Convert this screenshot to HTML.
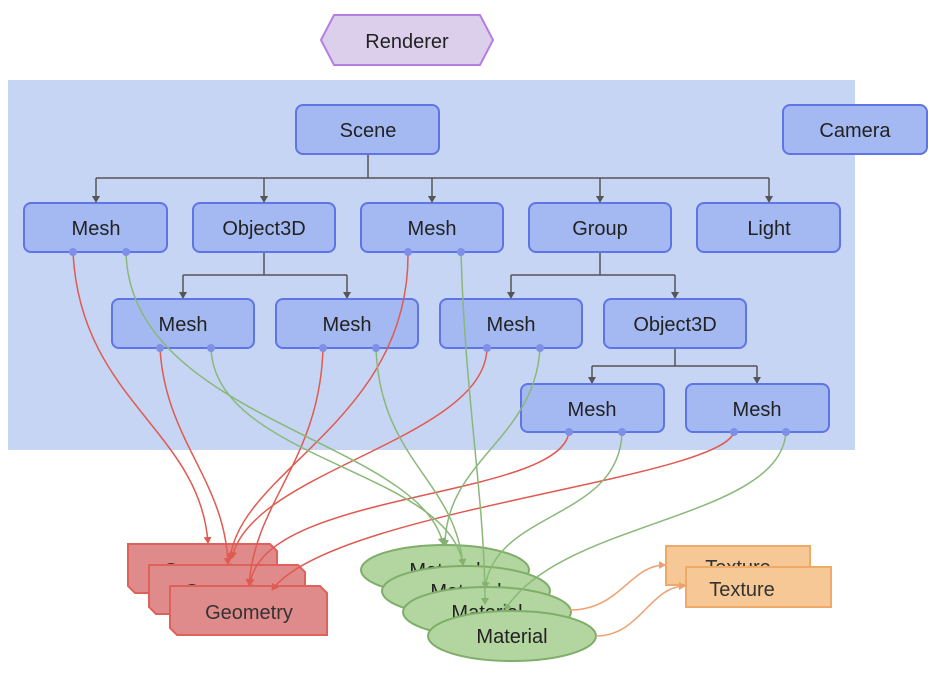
<!DOCTYPE html>
<html><head><meta charset="utf-8"><style>
html,body{margin:0;padding:0;background:#fff;}
svg{display:block;font-family:"Liberation Sans",Arial,sans-serif;}
</style></head><body>
<svg width="945" height="673" viewBox="0 0 945 673" xmlns="http://www.w3.org/2000/svg">
<defs>
<marker id="ak" markerWidth="8" markerHeight="8" refX="6" refY="4" orient="auto" markerUnits="userSpaceOnUse"><path d="M0,0 L7,4 L0,8 z" fill="#555"/></marker>
<marker id="ar" markerWidth="8" markerHeight="8" refX="6" refY="4" orient="auto" markerUnits="userSpaceOnUse"><path d="M0,0 L7,4 L0,8 z" fill="#e05a50"/></marker>
<marker id="ag" markerWidth="8" markerHeight="8" refX="6" refY="4" orient="auto" markerUnits="userSpaceOnUse"><path d="M0,0 L7,4 L0,8 z" fill="#86b070"/></marker>
<marker id="ao" markerWidth="8" markerHeight="8" refX="6" refY="4" orient="auto" markerUnits="userSpaceOnUse"><path d="M0,0 L7,4 L0,8 z" fill="#f0a070"/></marker>
</defs>
<rect x="8" y="80" width="847" height="370" fill="#c6d5f4"/>
<polygon points="334,15 480,15 493,40 480,65 334,65 321,40" fill="#dccfec" stroke="#b57ee0" stroke-width="2"/>
<text x="407" y="48" font-size="20" text-anchor="middle" fill="#222">Renderer</text>

<g stroke="#555" stroke-width="1.5" fill="none">
<path d="M368,154 V178 M96,178 H769"/>
<path d="M96,178 V202" marker-end="url(#ak)"/><path d="M264,178 V202" marker-end="url(#ak)"/><path d="M432,178 V202" marker-end="url(#ak)"/><path d="M600,178 V202" marker-end="url(#ak)"/><path d="M769,178 V202" marker-end="url(#ak)"/>
<path d="M264,252 V275 M183,275 H347"/><path d="M183,275 V298" marker-end="url(#ak)"/><path d="M347,275 V298" marker-end="url(#ak)"/>
<path d="M600,252 V275 M511,275 H675"/><path d="M511,275 V298" marker-end="url(#ak)"/><path d="M675,275 V298" marker-end="url(#ak)"/>
<path d="M675,348 V366 M592,366 H757"/><path d="M592,366 V383" marker-end="url(#ak)"/><path d="M757,366 V383" marker-end="url(#ak)"/>
</g>

<g fill="#a4b9f1" stroke="#5f74e6" stroke-width="2">
<rect x="296" y="105" width="143" height="49" rx="7"/>
<rect x="783" y="105" width="144" height="49" rx="7"/>
<rect x="24" y="203" width="143" height="49" rx="7"/>
<rect x="193" y="203" width="142" height="49" rx="7"/>
<rect x="361" y="203" width="142" height="49" rx="7"/>
<rect x="529" y="203" width="142" height="49" rx="7"/>
<rect x="697" y="203" width="143" height="49" rx="7"/>
<rect x="112" y="299" width="142" height="49" rx="7"/>
<rect x="276" y="299" width="142" height="49" rx="7"/>
<rect x="440" y="299" width="142" height="49" rx="7"/>
<rect x="604" y="299" width="142" height="49" rx="7"/>
<rect x="521" y="384" width="143" height="48" rx="7"/>
<rect x="686" y="384" width="143" height="48" rx="7"/>
</g>
<g font-size="20" text-anchor="middle" fill="#222">
<text x="368" y="137">Scene</text><text x="855" y="137">Camera</text>
<text x="96" y="235">Mesh</text><text x="264" y="235">Object3D</text><text x="432" y="235">Mesh</text><text x="600" y="235">Group</text><text x="769" y="235">Light</text>
<text x="183" y="331">Mesh</text><text x="347" y="331">Mesh</text><text x="511" y="331">Mesh</text><text x="675" y="331">Object3D</text>
<text x="592" y="416">Mesh</text><text x="757" y="416">Mesh</text>
</g>

<!-- geometry -->
<g stroke="#e0605a" stroke-width="2" font-size="20" text-anchor="middle">
<polygon fill="#e08b8b" points="128,544 270,544 277,551 277,593 135,593 128,586"/>
<text x="207" y="577" fill="#333" stroke="none">Geometry</text>
<polygon fill="#e08b8b" points="149,565 298,565 305,572 305,614 156,614 149,607"/>
<text x="228" y="598" fill="#333" stroke="none">Geometry</text>
<polygon fill="#e08b8b" points="170,586 320,586 327,593 327,635 177,635 170,628"/>
<text x="249" y="619" fill="#333" stroke="none">Geometry</text>
</g>

<!-- materials -->
<g stroke="#7fae6a" stroke-width="2" font-size="20" text-anchor="middle">
<ellipse fill="#b3d5a0" cx="445" cy="570" rx="84" ry="25"/>
<text x="445" y="577" fill="#222" stroke="none">Material</text>
<ellipse fill="#b3d5a0" cx="466" cy="591" rx="84" ry="25"/>
<text x="466" y="598" fill="#222" stroke="none">Material</text>
<ellipse fill="#b3d5a0" cx="487" cy="612" rx="84" ry="25"/>
<text x="487" y="619" fill="#222" stroke="none">Material</text>
<ellipse fill="#b3d5a0" cx="512" cy="636" rx="84" ry="25"/>
<text x="512" y="643" fill="#222" stroke="none">Material</text>
</g>

<!-- textures -->
<g stroke="#f0aa68" stroke-width="2" font-size="20" text-anchor="middle">
<rect fill="#f5c896" x="666" y="546" width="144" height="39"/>
<text x="738" y="574" fill="#333" stroke="none">Texture</text>
<rect fill="#f5c896" x="686" y="567" width="145" height="40"/>
<text x="742" y="596" fill="#333" stroke="none">Texture</text>
</g>

<!-- red connectors -->
<g stroke="#e05a50" stroke-width="1.5" fill="none">
<path d="M73,252 C80,400 200,430 208,543" marker-end="url(#ar)"/>
<path d="M160,348 C165,440 225,480 228,564" marker-end="url(#ar)"/>
<path d="M408,252 C410,420 240,470 230,559" marker-end="url(#ar)"/>
<path d="M323,348 C320,460 255,500 249,585" marker-end="url(#ar)"/>
<path d="M487,348 C485,440 250,470 232,558" marker-end="url(#ar)"/>
<path d="M569,432 C560,500 260,490 250,585" marker-end="url(#ar)"/>
<path d="M734,432 C720,480 330,510 272,590" marker-end="url(#ar)"/>
</g>
<!-- green connectors -->
<g stroke="#8ab878" stroke-width="1.5" fill="none">
<path d="M126,252 C130,420 420,440 443,544" marker-end="url(#ag)"/>
<path d="M211,348 C215,460 450,470 463,565" marker-end="url(#ag)"/>
<path d="M461,252 C465,400 485,500 485,604" marker-end="url(#ag)"/>
<path d="M376,348 C380,460 455,480 463,565" marker-end="url(#ag)"/>
<path d="M540,348 C535,440 445,460 445,546" marker-end="url(#ag)"/>
<path d="M622,432 C620,520 495,510 485,588" marker-end="url(#ag)"/>
<path d="M786,432 C780,520 560,520 505,610" marker-end="url(#ag)"/>
</g>
<!-- orange connectors -->
<g stroke="#f0a070" stroke-width="1.5" fill="none">
<path d="M570,610 C620,610 630,565 665,565" marker-end="url(#ao)"/>
<path d="M596,636 C640,636 650,586 685,586" marker-end="url(#ao)"/>
</g>
<g fill="#7f8fe6">
<circle cx="73" cy="252" r="4"/><circle cx="126" cy="252" r="4"/>
<circle cx="408" cy="252" r="4"/><circle cx="461" cy="252" r="4"/>
<circle cx="160" cy="348" r="4"/><circle cx="211" cy="348" r="4"/>
<circle cx="323" cy="348" r="4"/><circle cx="376" cy="348" r="4"/>
<circle cx="487" cy="348" r="4"/><circle cx="540" cy="348" r="4"/>
<circle cx="569" cy="432" r="4"/><circle cx="622" cy="432" r="4"/>
<circle cx="734" cy="432" r="4"/><circle cx="786" cy="432" r="4"/>
</g>
</svg>
</body></html>
